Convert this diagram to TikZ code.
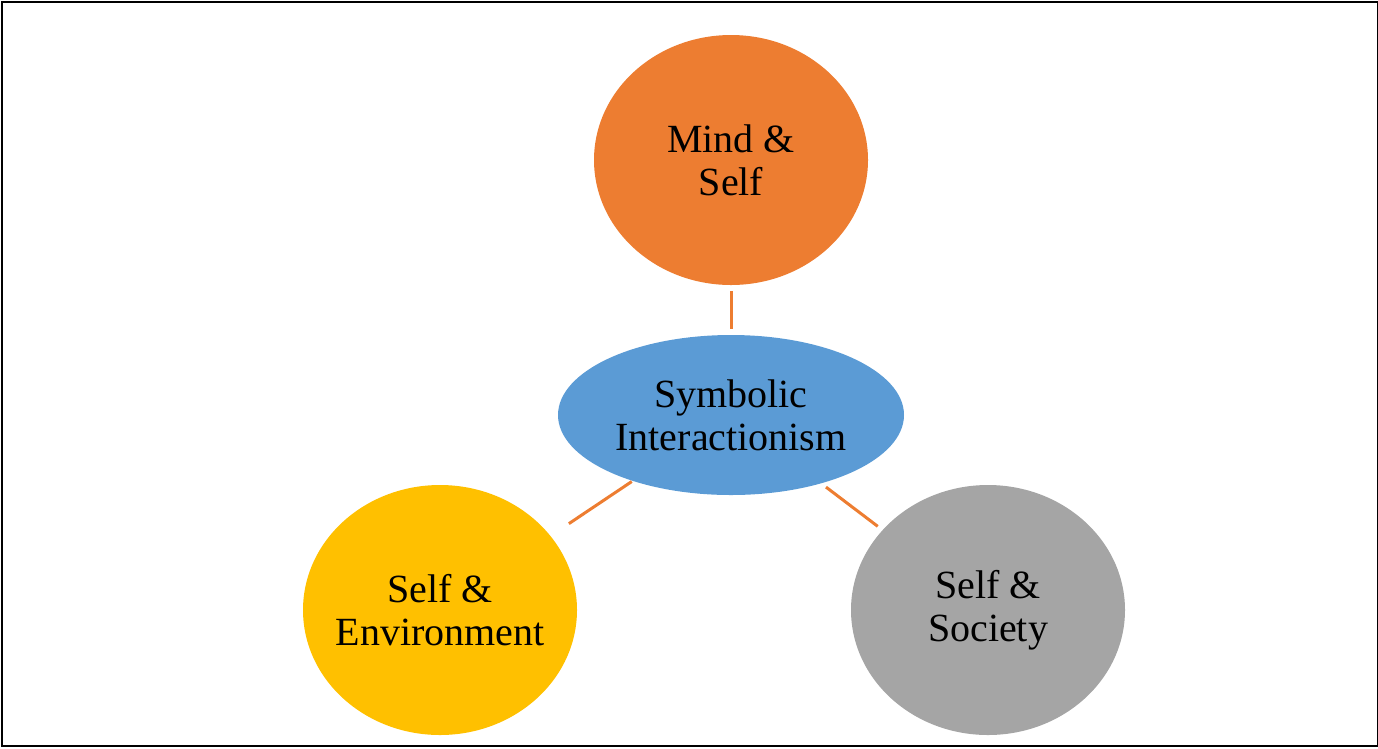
\documentclass[tikz,border=0pt]{standalone}
\usepackage{fontspec}
\setmainfont{Liberation Serif}
\usetikzlibrary{shapes.geometric}
\definecolor{cor}{HTML}{ED7D31}
\definecolor{cbl}{HTML}{5B9BD5}
\definecolor{cye}{HTML}{FFC000}
\definecolor{cgr}{HTML}{A5A5A5}
\begin{document}
\begin{tikzpicture}[x=1pt,y=-1pt,
  bub/.style={ellipse,draw=none,inner sep=0pt},
  every label/.style={align=center,font=\fontsize{40}{43}\selectfont,inner sep=0pt},
  link/.style={draw=cor,line width=3pt,shorten <=6pt,shorten >=6pt}]
\useasboundingbox (0,0) rectangle (1378,748);
\draw[line width=2pt] (2,2) rectangle (1378,746);
\node[bub,fill=cor,minimum width=274pt,minimum height=250pt,label=center:{Mind \&\\Self}] (mind) at (731,160) {};
\node[bub,fill=cbl,minimum width=346pt,minimum height=160pt,label=center:{Symbolic\\Interactionism}] (sym) at (731,415) {};
\node[bub,fill=cye,minimum width=274pt,minimum height=250pt,label=center:{Self \&\\Environment}] (env) at (440,610) {};
\node[bub,fill=cgr,minimum width=274pt,minimum height=250pt,label=center:{Self \&\\Society}] (soc) at (988,610) {};
\draw[link] (mind) -- (sym);
\draw[link,shorten <=1pt,shorten >=22pt] (sym) -- (env);
\draw[link] (sym) -- (soc);
\end{tikzpicture}
\end{document}
